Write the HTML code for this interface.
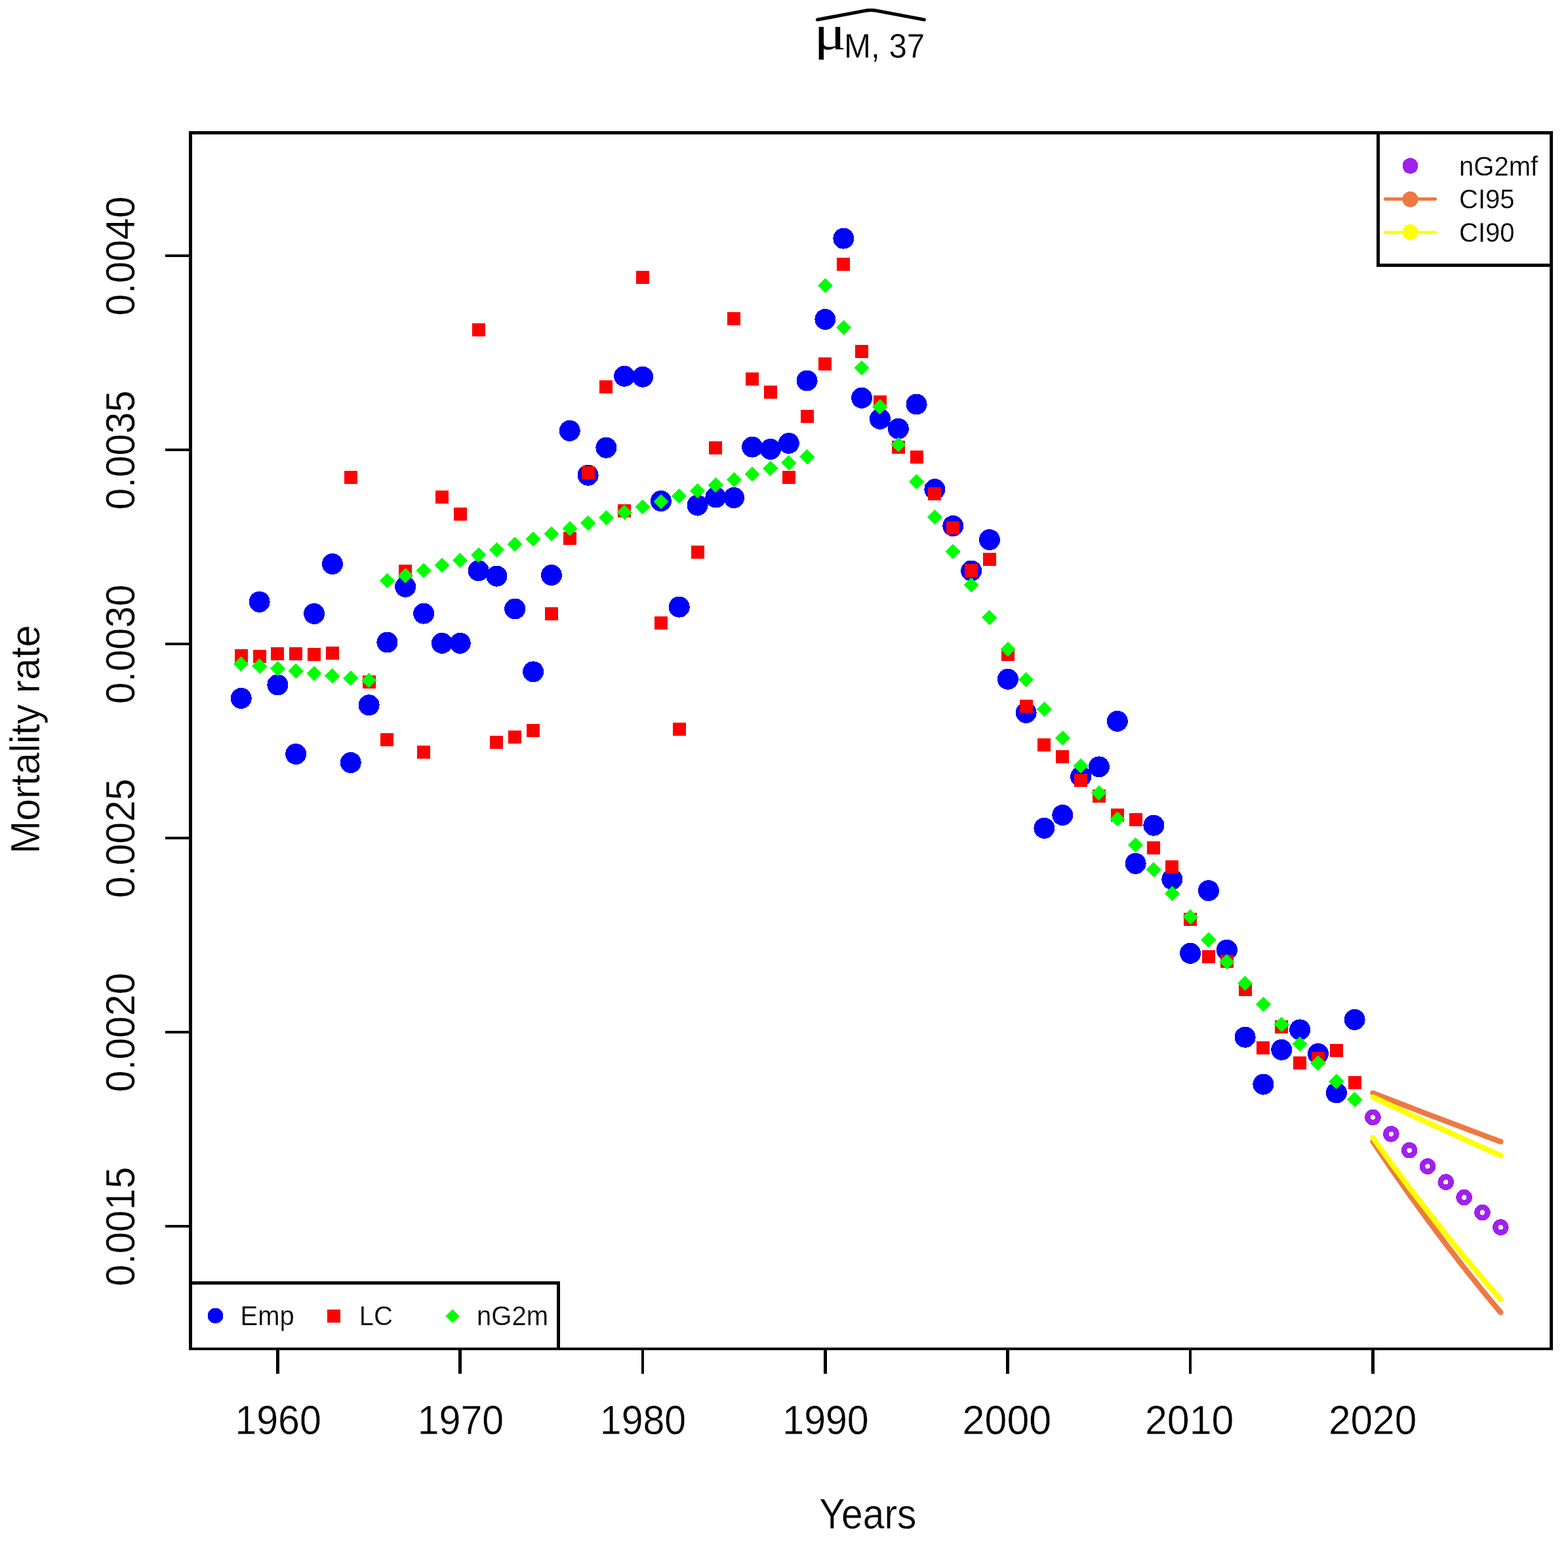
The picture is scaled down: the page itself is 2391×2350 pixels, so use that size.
<!DOCTYPE html>
<html lang="en">
<head>
<meta charset="utf-8">
<title>Mortality rate plot</title>
<style>
html,body{margin:0;padding:0;background:#fff;}
body{width:2391px;height:2350px;overflow:hidden;}
svg{display:block;}
text{font-family:"Liberation Sans",Arial,Helvetica,sans-serif;fill:#000;}
.ax{font-size:60px;stroke:#fff;stroke-width:0.4px;}
.lg{font-size:40px;stroke:#fff;stroke-width:0.25px;}
.sub{font-size:50px;stroke:#fff;stroke-width:0.3px;}
.mu{font-family:"Liberation Serif","DejaVu Serif",serif;font-size:72px;}
</style>
</head>
<body>
<svg width="2391" height="2350" viewBox="0 0 2391 2350">
<rect x="0" y="0" width="2391" height="2350" fill="#ffffff"/>
<g fill="#0000ff" shape-rendering="crispEdges">
<circle cx="367.7" cy="1064.9" r="16"/>
<circle cx="395.6" cy="917.8" r="16"/>
<circle cx="423.4" cy="1044.4" r="16"/>
<circle cx="451.2" cy="1149.9" r="16"/>
<circle cx="479.1" cy="935.9" r="16"/>
<circle cx="506.9" cy="860.0" r="16"/>
<circle cx="534.7" cy="1163.0" r="16"/>
<circle cx="562.6" cy="1075.3" r="16"/>
<circle cx="590.4" cy="979.5" r="16"/>
<circle cx="618.2" cy="894.8" r="16"/>
<circle cx="646.1" cy="935.6" r="16"/>
<circle cx="673.9" cy="980.8" r="16"/>
<circle cx="701.7" cy="980.8" r="16"/>
<circle cx="729.6" cy="870.3" r="16"/>
<circle cx="757.4" cy="878.6" r="16"/>
<circle cx="785.2" cy="928.5" r="16"/>
<circle cx="813.1" cy="1024.4" r="16"/>
<circle cx="840.9" cy="877.0" r="16"/>
<circle cx="868.7" cy="656.9" r="16"/>
<circle cx="896.6" cy="724.7" r="16"/>
<circle cx="924.4" cy="682.7" r="16"/>
<circle cx="952.2" cy="573.7" r="16"/>
<circle cx="980.1" cy="574.7" r="16"/>
<circle cx="1007.9" cy="764.0" r="16"/>
<circle cx="1035.7" cy="925.6" r="16"/>
<circle cx="1063.6" cy="770.6" r="16"/>
<circle cx="1091.4" cy="758.4" r="16"/>
<circle cx="1119.2" cy="759.0" r="16"/>
<circle cx="1147.1" cy="681.6" r="16"/>
<circle cx="1174.9" cy="685.0" r="16"/>
<circle cx="1202.8" cy="675.9" r="16"/>
<circle cx="1230.6" cy="580.5" r="16"/>
<circle cx="1258.4" cy="487.0" r="16"/>
<circle cx="1286.3" cy="363.6" r="16"/>
<circle cx="1314.1" cy="606.8" r="16"/>
<circle cx="1341.9" cy="638.8" r="16"/>
<circle cx="1369.8" cy="653.8" r="16"/>
<circle cx="1397.6" cy="616.5" r="16"/>
<circle cx="1425.4" cy="746.2" r="16"/>
<circle cx="1453.3" cy="802.0" r="16"/>
<circle cx="1481.1" cy="870.5" r="16"/>
<circle cx="1508.9" cy="823.1" r="16"/>
<circle cx="1536.8" cy="1035.7" r="16"/>
<circle cx="1564.6" cy="1086.9" r="16"/>
<circle cx="1592.4" cy="1262.9" r="16"/>
<circle cx="1620.3" cy="1243.0" r="16"/>
<circle cx="1648.1" cy="1184.4" r="16"/>
<circle cx="1675.9" cy="1169.4" r="16"/>
<circle cx="1703.8" cy="1099.8" r="16"/>
<circle cx="1731.6" cy="1316.8" r="16"/>
<circle cx="1759.4" cy="1258.7" r="16"/>
<circle cx="1787.3" cy="1340.9" r="16"/>
<circle cx="1815.1" cy="1453.8" r="16"/>
<circle cx="1842.9" cy="1358.2" r="16"/>
<circle cx="1870.8" cy="1448.6" r="16"/>
<circle cx="1898.6" cy="1581.7" r="16"/>
<circle cx="1926.4" cy="1653.6" r="16"/>
<circle cx="1954.3" cy="1600.8" r="16"/>
<circle cx="1982.1" cy="1570.4" r="16"/>
<circle cx="2009.9" cy="1606.9" r="16"/>
<circle cx="2037.8" cy="1666.5" r="16"/>
<circle cx="2065.6" cy="1554.9" r="16"/>
</g>
<g fill="#ff0000" shape-rendering="crispEdges">
<rect x="358" y="990" width="20" height="20"/>
<rect x="386" y="991" width="20" height="20"/>
<rect x="413" y="987" width="20" height="20"/>
<rect x="441" y="987" width="20" height="20"/>
<rect x="469" y="988" width="20" height="20"/>
<rect x="497" y="986" width="20" height="20"/>
<rect x="525" y="718" width="20" height="20"/>
<rect x="553" y="1030" width="20" height="20"/>
<rect x="580" y="1118" width="20" height="20"/>
<rect x="608" y="861" width="20" height="20"/>
<rect x="636" y="1137" width="20" height="20"/>
<rect x="664" y="748" width="20" height="20"/>
<rect x="692" y="774" width="20" height="20"/>
<rect x="720" y="493" width="20" height="20"/>
<rect x="747" y="1122" width="20" height="20"/>
<rect x="775" y="1114" width="20" height="20"/>
<rect x="803" y="1104" width="20" height="20"/>
<rect x="831" y="926" width="20" height="20"/>
<rect x="859" y="811" width="20" height="20"/>
<rect x="887" y="711" width="20" height="20"/>
<rect x="914" y="580" width="20" height="20"/>
<rect x="942" y="769" width="20" height="20"/>
<rect x="970" y="413" width="20" height="20"/>
<rect x="998" y="940" width="20" height="20"/>
<rect x="1026" y="1102" width="20" height="20"/>
<rect x="1054" y="832" width="20" height="20"/>
<rect x="1081" y="673" width="20" height="20"/>
<rect x="1109" y="476" width="20" height="20"/>
<rect x="1137" y="568" width="20" height="20"/>
<rect x="1165" y="588" width="20" height="20"/>
<rect x="1193" y="718" width="20" height="20"/>
<rect x="1221" y="625" width="20" height="20"/>
<rect x="1248" y="545" width="20" height="20"/>
<rect x="1276" y="393" width="20" height="20"/>
<rect x="1304" y="526" width="20" height="20"/>
<rect x="1332" y="603" width="20" height="20"/>
<rect x="1360" y="672" width="20" height="20"/>
<rect x="1388" y="687" width="20" height="20"/>
<rect x="1415" y="743" width="20" height="20"/>
<rect x="1443" y="795" width="20" height="20"/>
<rect x="1471" y="860" width="20" height="20"/>
<rect x="1499" y="843" width="20" height="20"/>
<rect x="1527" y="988" width="20" height="20"/>
<rect x="1555" y="1067" width="20" height="20"/>
<rect x="1582" y="1126" width="20" height="20"/>
<rect x="1610" y="1144" width="20" height="20"/>
<rect x="1638" y="1180" width="20" height="20"/>
<rect x="1666" y="1204" width="20" height="20"/>
<rect x="1694" y="1233" width="20" height="20"/>
<rect x="1722" y="1240" width="20" height="20"/>
<rect x="1749" y="1283" width="20" height="20"/>
<rect x="1777" y="1312" width="20" height="20"/>
<rect x="1805" y="1392" width="20" height="20"/>
<rect x="1833" y="1449" width="20" height="20"/>
<rect x="1861" y="1456" width="20" height="20"/>
<rect x="1889" y="1499" width="20" height="20"/>
<rect x="1916" y="1588" width="20" height="20"/>
<rect x="1944" y="1556" width="20" height="20"/>
<rect x="1972" y="1611" width="20" height="20"/>
<rect x="2000" y="1604" width="20" height="20"/>
<rect x="2028" y="1592" width="20" height="20"/>
<rect x="2056" y="1641" width="20" height="20"/>
</g>
<g fill="#00ff00" shape-rendering="crispEdges">
<path d="M356.1 1012.5L367.7 1000.9L379.3 1012.5L367.7 1024.1Z"/>
<path d="M384.0 1015.9L395.6 1004.3L407.2 1015.9L395.6 1027.5Z"/>
<path d="M411.8 1019.7L423.4 1008.1L435.0 1019.7L423.4 1031.3Z"/>
<path d="M439.6 1023.4L451.2 1011.8L462.8 1023.4L451.2 1035.0Z"/>
<path d="M467.5 1026.9L479.1 1015.3L490.7 1026.9L479.1 1038.5Z"/>
<path d="M495.3 1030.7L506.9 1019.1L518.5 1030.7L506.9 1042.3Z"/>
<path d="M523.1 1034.2L534.7 1022.6L546.3 1034.2L534.7 1045.8Z"/>
<path d="M551.0 1037.8L562.6 1026.2L574.2 1037.8L562.6 1049.4Z"/>
<path d="M578.8 885.8L590.4 874.2L602.0 885.8L590.4 897.4Z"/>
<path d="M606.6 877.8L618.2 866.2L629.8 877.8L618.2 889.4Z"/>
<path d="M634.5 870.1L646.1 858.5L657.7 870.1L646.1 881.7Z"/>
<path d="M662.3 862.3L673.9 850.7L685.5 862.3L673.9 873.9Z"/>
<path d="M690.1 854.4L701.7 842.8L713.3 854.4L701.7 866.0Z"/>
<path d="M718.0 846.2L729.6 834.6L741.2 846.2L729.6 857.8Z"/>
<path d="M745.8 838.4L757.4 826.8L769.0 838.4L757.4 850.0Z"/>
<path d="M773.6 830.0L785.2 818.4L796.8 830.0L785.2 841.6Z"/>
<path d="M801.5 822.0L813.1 810.4L824.7 822.0L813.1 833.6Z"/>
<path d="M829.3 814.0L840.9 802.4L852.5 814.0L840.9 825.6Z"/>
<path d="M857.1 806.1L868.7 794.5L880.3 806.1L868.7 817.7Z"/>
<path d="M885.0 798.0L896.6 786.4L908.2 798.0L896.6 809.6Z"/>
<path d="M912.8 789.8L924.4 778.2L936.0 789.8L924.4 801.4Z"/>
<path d="M940.6 781.4L952.2 769.8L963.8 781.4L952.2 793.0Z"/>
<path d="M968.5 773.3L980.1 761.7L991.7 773.3L980.1 784.9Z"/>
<path d="M996.3 764.9L1007.9 753.3L1019.5 764.9L1007.9 776.5Z"/>
<path d="M1024.1 756.5L1035.7 744.9L1047.3 756.5L1035.7 768.1Z"/>
<path d="M1052.0 748.3L1063.6 736.7L1075.2 748.3L1063.6 759.9Z"/>
<path d="M1079.8 739.9L1091.4 728.3L1103.0 739.9L1091.4 751.5Z"/>
<path d="M1107.7 731.5L1119.2 719.9L1130.8 731.5L1119.2 743.1Z"/>
<path d="M1135.5 722.9L1147.1 711.3L1158.7 722.9L1147.1 734.5Z"/>
<path d="M1163.3 714.5L1174.9 702.9L1186.5 714.5L1174.9 726.1Z"/>
<path d="M1191.2 705.8L1202.8 694.2L1214.4 705.8L1202.8 717.4Z"/>
<path d="M1219.0 697.0L1230.6 685.4L1242.2 697.0L1230.6 708.6Z"/>
<path d="M1246.8 435.6L1258.4 424.0L1270.0 435.6L1258.4 447.2Z"/>
<path d="M1274.7 499.4L1286.3 487.8L1297.9 499.4L1286.3 511.0Z"/>
<path d="M1302.5 560.8L1314.1 549.2L1325.7 560.8L1314.1 572.4Z"/>
<path d="M1330.3 620.4L1341.9 608.8L1353.5 620.4L1341.9 632.0Z"/>
<path d="M1358.2 678.2L1369.8 666.6L1381.4 678.2L1369.8 689.8Z"/>
<path d="M1386.0 734.4L1397.6 722.8L1409.2 734.4L1397.6 746.0Z"/>
<path d="M1413.8 788.7L1425.4 777.1L1437.0 788.7L1425.4 800.3Z"/>
<path d="M1441.7 841.1L1453.3 829.5L1464.9 841.1L1453.3 852.7Z"/>
<path d="M1469.5 892.3L1481.1 880.7L1492.7 892.3L1481.1 903.9Z"/>
<path d="M1497.3 941.7L1508.9 930.1L1520.5 941.7L1508.9 953.3Z"/>
<path d="M1525.2 990.0L1536.8 978.4L1548.4 990.0L1536.8 1001.6Z"/>
<path d="M1553.0 1036.5L1564.6 1024.9L1576.2 1036.5L1564.6 1048.1Z"/>
<path d="M1580.8 1081.7L1592.4 1070.1L1604.0 1081.7L1592.4 1093.3Z"/>
<path d="M1608.7 1125.5L1620.3 1113.9L1631.9 1125.5L1620.3 1137.1Z"/>
<path d="M1636.5 1168.0L1648.1 1156.4L1659.7 1168.0L1648.1 1179.6Z"/>
<path d="M1664.3 1209.4L1675.9 1197.8L1687.5 1209.4L1675.9 1221.0Z"/>
<path d="M1692.2 1249.2L1703.8 1237.6L1715.4 1249.2L1703.8 1260.8Z"/>
<path d="M1720.0 1288.4L1731.6 1276.8L1743.2 1288.4L1731.6 1300.0Z"/>
<path d="M1747.8 1326.2L1759.4 1314.6L1771.0 1326.2L1759.4 1337.8Z"/>
<path d="M1775.7 1362.7L1787.3 1351.1L1798.9 1362.7L1787.3 1374.3Z"/>
<path d="M1803.5 1398.4L1815.1 1386.8L1826.7 1398.4L1815.1 1410.0Z"/>
<path d="M1831.3 1433.4L1842.9 1421.8L1854.5 1433.4L1842.9 1445.0Z"/>
<path d="M1859.2 1466.7L1870.8 1455.1L1882.4 1466.7L1870.8 1478.3Z"/>
<path d="M1887.0 1499.5L1898.6 1487.9L1910.2 1499.5L1898.6 1511.1Z"/>
<path d="M1914.8 1531.3L1926.4 1519.7L1938.0 1531.3L1926.4 1542.9Z"/>
<path d="M1942.7 1562.2L1954.3 1550.6L1965.9 1562.2L1954.3 1573.8Z"/>
<path d="M1970.5 1591.9L1982.1 1580.3L1993.7 1591.9L1982.1 1603.5Z"/>
<path d="M1998.3 1621.5L2009.9 1609.9L2021.5 1621.5L2009.9 1633.1Z"/>
<path d="M2026.2 1649.4L2037.8 1637.8L2049.4 1649.4L2037.8 1661.0Z"/>
<path d="M2054.0 1677.0L2065.6 1665.4L2077.2 1677.0L2065.6 1688.6Z"/>
</g>
<g fill="none" stroke-width="8.3" stroke-linecap="round" stroke-linejoin="round">
<path stroke="#ee7942" d="M2093.4 1666.8L2121.3 1677.7L2149.1 1688.4L2176.9 1699.1L2204.8 1709.7L2232.6 1720.2L2260.4 1730.7L2288.3 1741.0"/>
<path stroke="#ee7942" d="M2093.4 1740.7L2121.3 1781.9L2149.1 1821.6L2176.9 1860.1L2204.8 1897.2L2232.6 1933.2L2260.4 1967.9L2288.3 2001.5"/>
<path stroke="#ffff00" d="M2093.4 1672.9L2121.3 1686.0L2149.1 1699.0L2176.9 1711.9L2204.8 1724.6L2232.6 1737.2L2260.4 1749.7L2288.3 1762.1"/>
<path stroke="#ffff00" d="M2093.4 1734.9L2121.3 1773.6L2149.1 1811.0L2176.9 1847.2L2204.8 1882.4L2232.6 1916.4L2260.4 1949.4L2288.3 1981.4"/>
</g>
<g fill="none" stroke="#a020f0" stroke-width="8.6" shape-rendering="crispEdges">
<circle cx="2093.4" cy="1703.9" r="8"/>
<circle cx="2121.3" cy="1729.3" r="8"/>
<circle cx="2149.1" cy="1754.2" r="8"/>
<circle cx="2176.9" cy="1778.6" r="8"/>
<circle cx="2204.8" cy="1802.6" r="8"/>
<circle cx="2232.6" cy="1826.0" r="8"/>
<circle cx="2260.4" cy="1849.0" r="8"/>
<circle cx="2288.3" cy="1871.6" r="8"/>
</g>
<g fill="#000" shape-rendering="crispEdges">
<rect x="2099" y="200" width="269" height="207"/><rect x="2104" y="205" width="259" height="197" fill="#fff"/>
<rect x="288" y="1954" width="566" height="105"/><rect x="293" y="1959" width="556" height="96" fill="#fff"/>
<rect x="288" y="200" width="2080" height="5"/>
<rect x="288" y="2055" width="2080" height="4"/>
<rect x="288" y="200" width="5" height="1859"/>
<rect x="2363" y="200" width="5" height="1859"/>
<rect x="421" y="2057" width="5" height="38"/>
<rect x="699" y="2057" width="5" height="38"/>
<rect x="978" y="2057" width="4" height="38"/>
<rect x="1256" y="2057" width="5" height="38"/>
<rect x="1534" y="2057" width="5" height="38"/>
<rect x="1813" y="2057" width="4" height="38"/>
<rect x="2091" y="2057" width="5" height="38"/>
<rect x="252" y="1868" width="38" height="4"/>
<rect x="252" y="1572" width="38" height="4"/>
<rect x="252" y="1276" width="38" height="4"/>
<rect x="252" y="980" width="38" height="4"/>
<rect x="252" y="684" width="38" height="4"/>
<rect x="252" y="388" width="38" height="4"/>
</g>
<g shape-rendering="crispEdges">
<rect x="2110" y="301" width="81" height="5" rx="2.5" fill="#ee7942"/>
<rect x="2110" y="352" width="81" height="5" rx="2.5" fill="#ffff00"/>
<circle cx="2150.5" cy="253" r="11.9" fill="#a020f0"/>
<circle cx="2150.5" cy="304" r="11.9" fill="#ee7942"/>
<circle cx="2150.5" cy="354" r="11.9" fill="#ffff00"/>
<circle cx="328.5" cy="2006.4" r="11.8" fill="#0000ff"/>
<rect x="499" y="1997" width="20" height="20" fill="#ff0000"/>
<path d="M679.6 2007L690 1996.6L700.4 2007L690 2017.4Z" fill="#00ff00"/>
</g>
<g class="lg">
<text transform="translate(2225.1 267.9) scale(1 1.065)">nG2mf</text>
<text transform="translate(2225.1 318.1) scale(1 1.065)">CI95</text>
<text transform="translate(2225.1 368.5) scale(1 1.065)">CI90</text>
<text transform="translate(366.6 2021.2) scale(1 1.065)">Emp</text>
<text transform="translate(547.7 2021.2) scale(1 1.065)">LC</text>
<text transform="translate(727.1 2021.2) scale(1 1.065)">nG2m</text>
</g>
<g class="ax" text-anchor="middle">
<text transform="translate(424.1 2187.4) scale(0.985 1.045)">1960</text>
<text transform="translate(702.4 2187.4) scale(0.985 1.045)">1970</text>
<text transform="translate(980.5 2187.4) scale(0.985 1.045)">1980</text>
<text transform="translate(1259.0 2187.4) scale(0.985 1.045)">1990</text>
<text transform="translate(1535.4 2187.4) scale(1.016 1.045)">2000</text>
<text transform="translate(1813.7 2187.4) scale(1.016 1.045)">2010</text>
<text transform="translate(2093.1 2187.4) scale(1.007 1.045)">2020</text>
<text transform="translate(205.2 1870.4) rotate(-90) scale(0.992 1.05)">0.0015</text>
<text transform="translate(205.2 1574.4) rotate(-90) scale(0.992 1.05)">0.0020</text>
<text transform="translate(205.2 1278.4) rotate(-90) scale(0.992 1.05)">0.0025</text>
<text transform="translate(205.2 982.4) rotate(-90) scale(0.992 1.05)">0.0030</text>
<text transform="translate(205.2 686.4) rotate(-90) scale(0.992 1.05)">0.0035</text>
<text transform="translate(205.2 390.4) rotate(-90) scale(0.992 1.05)">0.0040</text>
<text transform="translate(1323.4 2331.3) scale(0.98 1.075)">Years</text>
<text transform="translate(60.3 1127.6) rotate(-90) scale(1.0065 1.04)">Mortality rate</text>
</g>
<g>
<path d="M1246.5 30L1322.5 15.8Q1328 15.2 1333.5 15.8L1409.3 30" fill="none" stroke="#000" stroke-width="5.2" stroke-linecap="round" stroke-linejoin="round"/>
<text class="mu" transform="translate(1241.2 74.6) scale(1.27 1.04)">μ</text>
<text class="sub" transform="translate(1287 88) scale(0.985 1.03)">M, 37</text>
</g>
</svg>
</body>
</html>
